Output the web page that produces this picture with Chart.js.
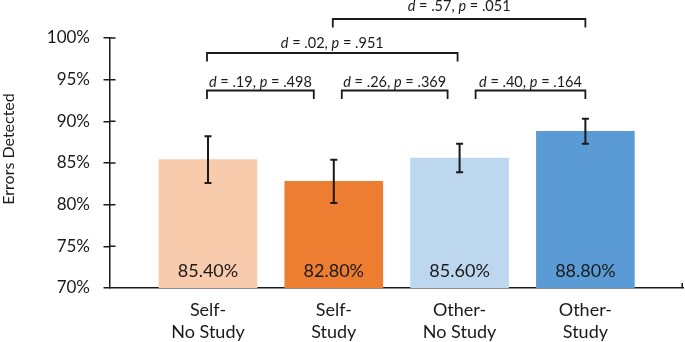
<!DOCTYPE html>
<html>
<head>
<meta charset="utf-8">
<script src="https://cdn.jsdelivr.net/npm/chart.js@4.4.1/dist/chart.umd.min.js"></script>
<style>
  html, body { margin: 0; padding: 0; background: #fff; }
</style>
</head>
<body>
<canvas id="graph" width="685" height="342"></canvas>
<script>
const conditions = [['Self-', 'No Study'], ['Self-', 'Study'], ['Other-', 'No Study'], ['Other-', 'Study']];
const meanDetected = [85.4, 82.8, 85.6, 88.8];
const errorSize = [2.8, 2.6, 1.7, 1.5];
const barColors = ['#F8CBAD', '#ED7D31', '#BDD7EE', '#5B9BD5'];
const yTicks = [70, 75, 80, 85, 90, 95, 100];

// pairwise comparisons shown as brackets above the bars
const compFrom = [0, 1, 2, 0, 1];
const compTo = [1, 2, 3, 2, 3];
const compD = ['.19', '.26', '.40', '.02', '.57'];
const compP = ['.498', '.369', '.164', '.951', '.051'];
const compLevel = [0, 0, 0, 1, 2];

const ink = '#1a1a1a';
const fontName = 'Lato';

// bracket look, px
const levelOffset = [52.5, 15, -19];   // from top of plot area
const textGap = [4, 5.5, 8.3];
const bracketInset = [[-1, 20], [8, 12], [16, 0], [-1, 2], [-1, 0]];

const extras = {
  id: 'extras',
  afterDatasetsDraw(chart) {
    const ctx = chart.ctx;
    const x = chart.scales.x, y = chart.scales.y;
    const area = chart.chartArea;
    ctx.save();
    ctx.strokeStyle = ink;
    ctx.fillStyle = ink;

    // inner half of the y ticks, and the end mark of the x axis
    ctx.lineWidth = 1.5;
    ctx.beginPath();
    yTicks.slice(1).forEach(v => {
      const py = y.getPixelForValue(v);
      ctx.moveTo(area.left, py);
      ctx.lineTo(area.left + 6, py);
    });
    ctx.moveTo(area.right - 0.75, area.bottom);
    ctx.lineTo(area.right - 0.75, area.bottom - 5);
    ctx.stroke();

    // error bars
    ctx.lineWidth = 2;
    meanDetected.forEach((m, i) => {
      const px = x.getPixelForValue(i);
      const top = y.getPixelForValue(m + errorSize[i]);
      const bot = y.getPixelForValue(m - errorSize[i]);
      ctx.beginPath();
      ctx.moveTo(px, top); ctx.lineTo(px, bot);
      ctx.moveTo(px - 3.5, top); ctx.lineTo(px + 3.5, top);
      ctx.moveTo(px - 3.5, bot); ctx.lineTo(px + 3.5, bot);
      ctx.stroke();
    });

    // value labels in the bars
    ctx.font = '18px ' + fontName;
    ctx.textAlign = 'center';
    ctx.textBaseline = 'alphabetic';
    meanDetected.forEach((m, i) => {
      ctx.fillText(m.toFixed(2) + '%', x.getPixelForValue(i), area.bottom - 11);
    });

    // brackets
    ctx.lineWidth = 1.8;
    compFrom.forEach((a, i) => {
      const ly = area.top + levelOffset[compLevel[i]];
      const x1 = x.getPixelForValue(a) + bracketInset[i][0];
      const x2 = x.getPixelForValue(compTo[i]) - bracketInset[i][1];
      ctx.beginPath();
      ctx.moveTo(x1, ly + 8.5);
      ctx.lineTo(x1, ly);
      ctx.lineTo(x2, ly);
      ctx.lineTo(x2, ly + 8.5);
      ctx.stroke();

      const parts = [['d', true], [' = ' + compD[i] + ', ', false], ['p', true], [' = ' + compP[i], false]];
      let w = 0;
      parts.forEach(p => {
        ctx.font = (p[1] ? 'italic ' : '') + '14.5px ' + fontName;
        w += ctx.measureText(p[0]).width;
      });
      let tx = (x1 + x2) / 2 - w / 2;
      ctx.textAlign = 'left';
      parts.forEach(p => {
        ctx.font = (p[1] ? 'italic ' : '') + '14.5px ' + fontName;
        ctx.fillText(p[0], tx, ly - textGap[compLevel[i]]);
        tx += ctx.measureText(p[0]).width;
      });
    });

    // y axis title
    ctx.font = '16px ' + fontName;
    ctx.textAlign = 'center';
    ctx.translate(14.3, 149);
    ctx.rotate(-Math.PI / 2);
    ctx.fillText('Errors Detected', 0, 0);
    ctx.restore();
  }
};

new Chart(document.getElementById('graph'), {
  type: 'bar',
  data: {
    datasets: [{
      data: meanDetected.map((v, i) => ({ x: i, y: v })),
      backgroundColor: barColors,
      barThickness: 98,
      borderWidth: 0
    }]
  },
  options: {
    responsive: false,
    animation: false,
    layout: { padding: { top: 38, right: 2, left: 0, bottom: 0 } },
    plugins: {
      legend: { display: false },
      tooltip: { enabled: false }
    },
    scales: {
      x: {
        type: 'linear',
        offset: false,
        min: -0.783,
        max: 3.776,
        afterBuildTicks: s => { s.ticks = conditions.map((c, i) => ({ value: i })); },
        afterFit: s => { s.height = 54; },
        ticks: {
          callback: v => conditions[v],
          autoSkip: false,
          maxRotation: 0,
          padding: 11,
          color: ink,
          font: { family: fontName, size: 18, lineHeight: 1.22 }
        },
        grid: { display: false, drawTicks: false, tickLength: 0 },
        border: { color: ink, width: 1.5 }
      },
      y: {
        min: 70,
        max: 100,
        afterFit: s => { s.width = 109.5; },
        ticks: {
          stepSize: 5,
          callback: v => v + '%',
          padding: 13.5,
          color: ink,
          font: { family: fontName, size: 17 }
        },
        grid: { drawOnChartArea: false, tickLength: 6, color: ink, lineWidth: 1.5 },
        border: { color: ink, width: 1.5 }
      }
    }
  },
  plugins: [extras]
});
</script>
</body>
</html>
